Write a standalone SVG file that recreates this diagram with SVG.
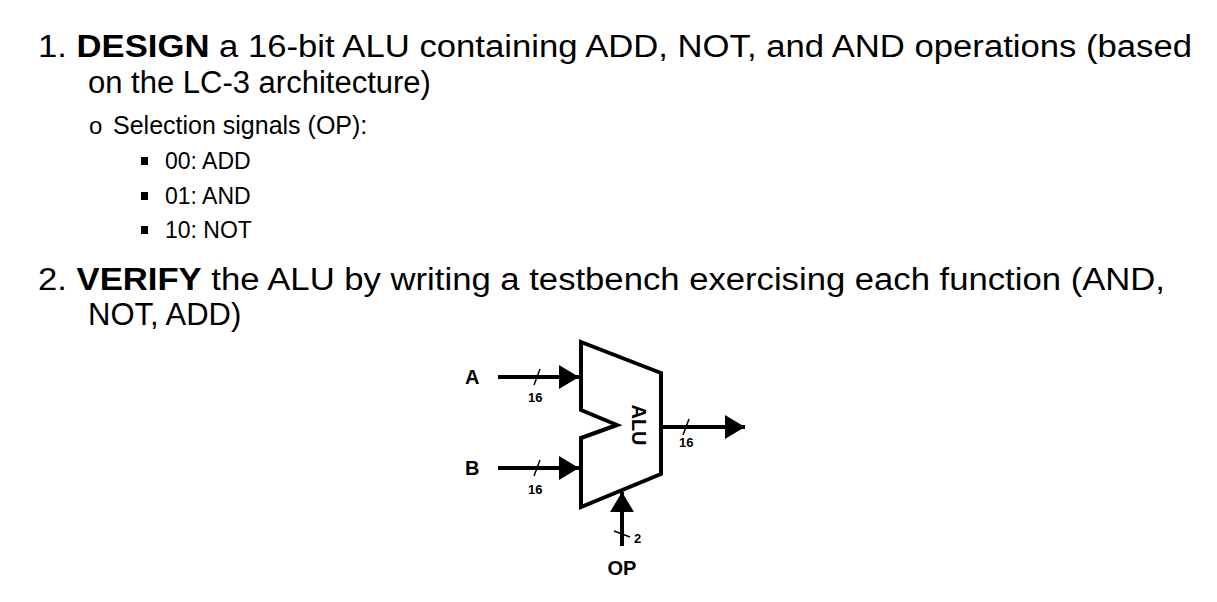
<svg xmlns="http://www.w3.org/2000/svg" width="1217" height="602" viewBox="0 0 1217 602">
<style>
.t{font-family:"Liberation Sans",Arial,sans-serif;fill:#000}
.l{stroke:#000;stroke-width:4;fill:none}
.s{stroke:#000;stroke-width:1.5}
.lab{font-family:"Liberation Sans",Arial,sans-serif;font-weight:bold;font-size:20px}
.n{font-family:"Liberation Sans",Arial,sans-serif;font-weight:bold;font-size:13px}
</style>
<defs><marker id="ah" markerWidth="5" markerHeight="6" refX="5" refY="3" orient="auto" markerUnits="strokeWidth"><path d="M0,0L5,3L0,6z"/></marker></defs>
<rect width="1217" height="602" fill="#fff"/>
<g id="text">
<text class="t" x="38" y="57" font-size="31" textLength="1154" lengthAdjust="spacingAndGlyphs">1.  <tspan font-weight="bold">DESIGN</tspan> a 16-bit ALU containing ADD, NOT, and AND operations (based</text>
<text class="t" x="88" y="93" font-size="31">on the LC-3 architecture)</text>
<text class="t" x="89" y="134" font-size="24">o</text>
<text class="t" x="113" y="134" font-size="25">Selection signals (OP):</text>
<rect x="141" y="157" width="7" height="8"/><text class="t" x="165" y="169" font-size="23">00: ADD</text>
<rect x="141" y="192" width="7" height="8"/><text class="t" x="165" y="204" font-size="23">01: AND</text>
<rect x="141" y="226" width="7" height="8"/><text class="t" x="165" y="238" font-size="23">10: NOT</text>
<text class="t" x="38" y="290" font-size="31" textLength="1127" lengthAdjust="spacingAndGlyphs">2.  <tspan font-weight="bold">VERIFY</tspan> the ALU by writing a testbench exercising each function (AND,</text>
<text class="t" x="88" y="325" font-size="31">NOT, ADD)</text>
</g>
<g id="alu">
<path class="l" d="M581,342L661,373L661,474L581,507L581,438L617,425L581,410Z" stroke-linejoin="miter"/>
<text class="lab" font-size="24" transform="translate(632,425) rotate(90)" text-anchor="middle">ALU</text>
</g>
<g id="labels">
<text class="lab" x="465" y="384">A</text>
<text class="lab" x="465" y="475">B</text>
<text class="lab" x="622" y="575" text-anchor="middle">OP</text>
<text class="n" x="528" y="402">16</text>
<text class="n" x="528" y="494">16</text>
<text class="n" x="679" y="447">16</text>
<text class="n" x="634" y="543">2</text>
</g>
<g id="connectors">
<path class="l" d="M498,377H579" marker-end="url(#ah)"/>
<path class="l" d="M498,468H579" marker-end="url(#ah)"/>
<path class="l" d="M661,427H745" marker-end="url(#ah)"/>
<path class="l" d="M622,546V492" marker-end="url(#ah)"/>
<path class="s" d="M534,385L540,369M534,476L540,460M683,435L689,419M614,531L630,537"/>
</g>
</svg>
